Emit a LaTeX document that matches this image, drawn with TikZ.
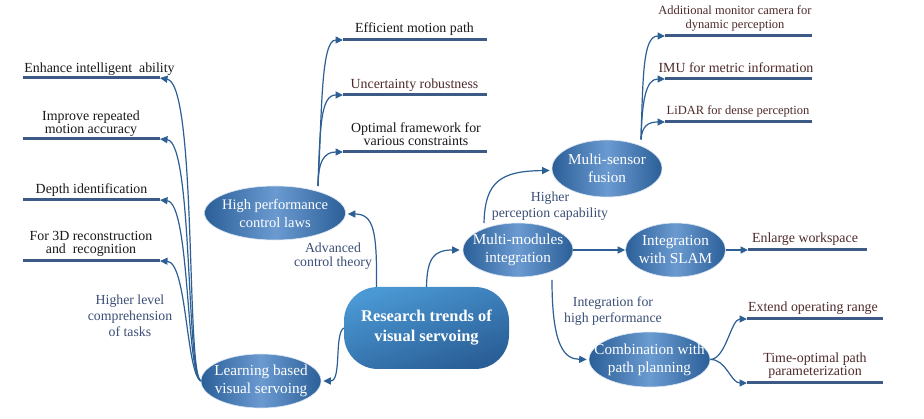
\documentclass[tikz,border=0pt]{standalone}
\usepackage{fontspec}
\setmainfont{Liberation Serif}
\usetikzlibrary{arrows.meta,calc,shapes.geometric}
\definecolor{connc}{HTML}{2C5F94}
\definecolor{barc}{HTML}{3D5A86}
\definecolor{lblc}{HTML}{3B4E75}
\definecolor{brnc}{HTML}{4E2A2A}
\definecolor{ellD}{HTML}{2B5F98}
\definecolor{ellL}{HTML}{6A9AD0}
\definecolor{rtL}{HTML}{4A98D4}
\definecolor{rtD}{HTML}{2A5E96}
\newcommand{\ml}[1]{\vbox{\let\\\cr\halign{\hfil##\hfil\cr#1\crcr}}}
\begin{document}
\begin{tikzpicture}[x=1pt,y=-1pt,
 conn/.style={draw=connc, line width=1.2pt, -{Triangle[length=7.5pt,width=7pt]}},
 bar/.style={draw=barc, line width=3pt},
 leaf/.style={anchor=base, inner sep=0pt, font=\fontsize{13.9}{13}\selectfont, text=black!90},
 leafb/.style={leaf, text=brnc},
 leafs/.style={leafb, font=\fontsize{12.5}{14}\selectfont},
 lab/.style={text=lblc, inner sep=0pt, anchor=base, font=\fontsize{13.8}{16.3}\selectfont},
 ell/.style={ellipse, inner sep=0pt, left color=ellD, right color=ellD, middle color=ellL, draw=white!75!ellL, line width=0.6pt},
 elltext/.style={text=white, inner sep=0pt, font=\fontsize{15.2}{18}\selectfont, align=center},
]
\useasboundingbox (0,0) rectangle (924,419);
\fill[white] (0,0) rectangle (924,419);

% central node
\node[rounded corners=34pt, minimum width=165pt, minimum height=82pt,
      text=white, font=\bfseries\fontsize{16.4}{20}\selectfont, align=center, inner sep=0pt,
      top color=rtL, bottom color=rtD, shading angle=20]
      (rt) at (426.5,328) {Research trends of\\visual servoing};

% ellipse nodes
\node[ell, minimum width=141pt, minimum height=54pt, label={[elltext, font=\fontsize{14.5}{18}\selectfont]center:High performance\\control laws}] (hp) at (275,213) {};
\node[ell, minimum width=120pt, minimum height=54pt, label={[elltext]center:Learning based\\visual servoing}] (lb) at (261,381) {};
\node[ell, minimum width=110pt, minimum height=54pt, label={[elltext]center:Multi-modules\\integration}] (mm) at (518,250) {};
\node[ell, minimum width=100pt, minimum height=54pt, label={[elltext]center:Integration\\with SLAM}] (slam) at (675.5,250) {};
\node[ell, minimum width=110pt, minimum height=57pt, label={[elltext]center:Multi-sensor\\fusion}] (ms) at (607,168.5) {};
\node[ell, minimum width=121pt, minimum height=55pt, label={[elltext]center:Combination with\\path planning}] (cp) at (649.5,359.5) {};

% bar ends
\coordinate (L1) at (160,78);  \coordinate (L2) at (160,139);
\coordinate (L3) at (160,200); \coordinate (L4) at (160,261);
\coordinate (T1) at (343,40);  \coordinate (T2) at (343,95);  \coordinate (T3) at (343,152);
\coordinate (R1) at (665,36);  \coordinate (R2) at (665,79);  \coordinate (R3) at (665,122);
\coordinate (E1) at (748,250);
\coordinate (X1) at (747,319); \coordinate (P1) at (747,383);

\draw[bar] (L1) -- (23,78);  \draw[bar] (L2) -- (23,139);
\draw[bar] (L3) -- (23,200); \draw[bar] (L4) -- (23,261);
\draw[bar] (T1) -- (487,40); \draw[bar] (T2) -- (487,95); \draw[bar] (T3) -- (487,152);
\draw[bar] (R1) -- (812,36); \draw[bar] (R2) -- (812,79); \draw[bar] (R3) -- (812,122);
\draw[bar] (E1) -- (867,250);
\draw[bar] (X1) -- (883,319); \draw[bar] (P1) -- (883,383);

% leaf texts
\node[leaf] (tL1) at (99.5,73) {Enhance intelligent\ \ ability};
\node[leaf] (tL2) at (91,133.3) {\ml{Improve repeated\\motion accuracy}};
\node[leaf] (tL3) at (91.5,194) {Depth identification};
\node[leaf] (tL4) at (91,254) {\ml{For 3D reconstruction\\and\ \ recognition}};
\node[leaf] (tT1) at (414.5,33) {Efficient motion path};
\node[leafb] (tT2) at (414.5,89) {Uncertainty robustness};
\node[leaf] (tT3) at (416,146) {\ml{Optimal framework for\\various constraints}};
\node[leafs] (tR1) at (735,29) {\ml{Additional monitor camera for\\dynamic perception}};
\node[leafb] (tR2) at (736,73) {IMU for metric information};
\node[leafs] (tR3) at (738,115) {LiDAR for dense perception};
\node[leafb] (tE1) at (805,243) {Enlarge workspace};
\node[leafb] (tX1) at (813,312) {Extend operating range};
\node[leafb] (tP1) at (815,376) {\ml{Time-optimal path\\parameterization}};

% connector labels
\node[lab, font=\fontsize{13.8}{14}\selectfont] (la1) at (333,267) {\ml{Advanced\\control theory}};
\node[lab] (la2) at (130,337) {\ml{Higher level\\comprehension\\of tasks}};
\node[lab] (la3) at (550,218) {\ml{Higher\\perception capability}};
\node[lab] (la4) at (613,323) {\ml{Integration for\\high performance}};

% connectors from central node
\draw[conn] ($(rt.north)+(-50,0)$) .. controls (377,232) and (374,214) .. ($(hp.east)+(2,1)$);
\draw[conn] (rt.north) .. controls (427,258) and (434,250) .. ($(mm.west)+(-3,0)$);
\draw[conn] (rt.west) .. controls (334,334) and (342,381) .. ($(lb.east)+(2,0)$);

% learning based -> left bars
\draw[conn] (lb.west) .. controls (186,372) and (197,84) .. (L1);
\draw[conn] (lb.west) .. controls (186,372) and (193,142) .. (L2);
\draw[conn] (lb.west) .. controls (186,372) and (190,203) .. (L3);
\draw[conn] (lb.west) .. controls (186,372) and (187,262) .. (L4);

% high performance -> top bars
\draw[conn] ($(hp.center)+(43,-27)$) .. controls (322,110) and (321,40) .. (T1);
\draw[conn] ($(hp.center)+(43,-27)$) .. controls (320,125) and (321,95) .. (T2);
\draw[conn] ($(hp.center)+(43,-27)$) .. controls (318,162) and (324,152) .. (T3);

% multi-modules
\draw[conn] ($(mm.center)+(-34,-27)$) .. controls (485,182) and (500,171) .. ($(ms.west)+(-2,2)$);
\draw[conn] (mm.east) -- (slam.west);
\draw[conn] (slam.east) -- (E1);
\draw[conn] ($(mm.center)+(34,30)$) .. controls (552,348) and (565,359) .. ($(cp.west)+(-2,0)$);

% multi-sensor -> right bars
\draw[conn] ($(ms.center)+(34,-29)$) .. controls (643,75) and (643,36) .. (R1);
\draw[conn] ($(ms.center)+(34,-29)$) .. controls (642,100) and (646,79) .. (R2);
\draw[conn] ($(ms.center)+(34,-29)$) .. controls (642,126) and (648,122) .. (R3);

% combination -> bars
\draw[conn] (cp.east) .. controls (726,359) and (731,319) .. (X1);
\draw[conn] (cp.east) .. controls (726,359) and (731,383) .. (P1);
\end{tikzpicture}
\end{document}
